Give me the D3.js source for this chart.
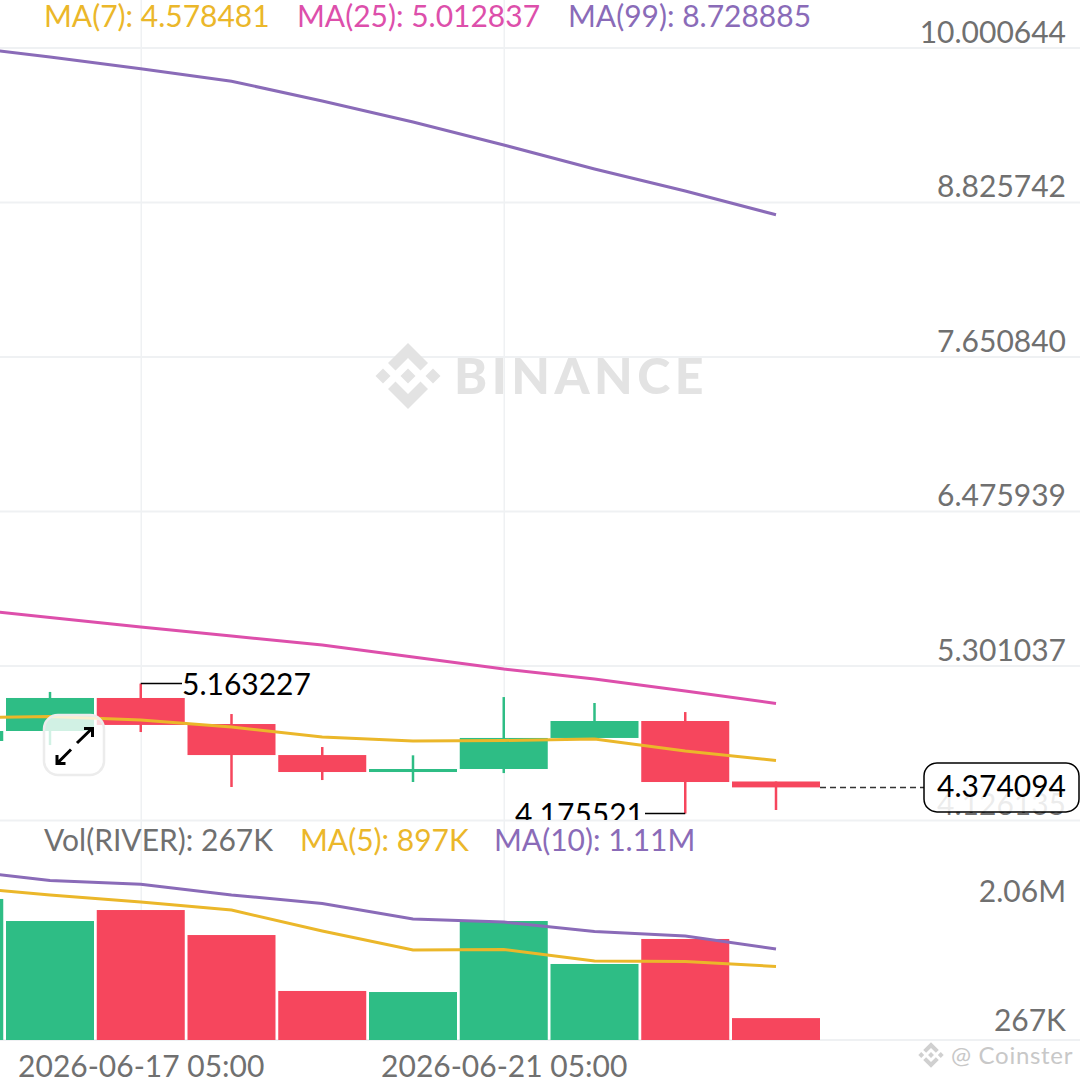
<!DOCTYPE html>
<html lang="en">
<head>
    <meta charset="UTF-8">
    <script src="https://d3js.org/d3.v7.min.js"></script>
    <title>RIVER candles</title>
    <style>
        html, body { margin: 0; padding: 0; background: #fff; }
        svg { display: block; font-family: Lato, sans-serif; }
    </style>
</head>
<body>

<script>
    const dates = ["2026-06-15", "2026-06-16", "2026-06-17", "2026-06-18", "2026-06-19", "2026-06-20", "2026-06-21", "2026-06-22", "2026-06-23", "2026-06-24"];
    const opens = [4.727, 4.803, 5.054, 4.856, 4.620, 4.491, 4.514, 4.750, 4.879, 4.419];
    const highs = [4.830, 5.100, 5.163227, 4.932, 4.681, 4.618, 5.061, 5.016, 4.947, 4.419];
    const lows = [4.700, 4.696, 4.795, 4.377, 4.430, 4.415, 4.483, 4.750, 4.175521, 4.202];
    const closes = [4.803, 5.054, 4.849, 4.620, 4.491, 4.514, 4.750, 4.879, 4.415, 4.374094];
    const volumes = [1.72, 1.451, 1.585, 1.280, 0.598, 0.585, 1.451, 0.927, 1.232, 0.267];

    const ma7 = [4.902, 4.913, 4.886, 4.833, 4.757, 4.727, 4.731, 4.742, 4.651, 4.578481];
    const ma25 = [5.738, 5.666, 5.594, 5.525, 5.457, 5.366, 5.274, 5.198, 5.107, 5.012837];
    const ma99 = [10.012, 9.928, 9.839, 9.744, 9.594, 9.434, 9.259, 9.077, 8.909, 8.728885];
    const volMa5 = [1.866, 1.768, 1.683, 1.585, 1.329, 1.098, 1.104, 0.963, 0.957, 0.897];
    const volMa10 = [2.073, 1.945, 1.899, 1.768, 1.665, 1.476, 1.439, 1.323, 1.268, 1.11];

    const priceTicks = [10.000644, 8.825742, 7.650840, 6.475939, 5.301037, 4.126135];
    const volTicks = [2.06, 0.267];
    const volTickLabels = ["2.06M", "267K"];
    const timeTicks = ["2026-06-17", "2026-06-21"];

    const GREEN = "#2ebd85", RED = "#f6465d", YELLOW = "#ebb72a", PINK = "#dd4fab", PURPLE = "#8a6bb8";
    const GRID = "#eff1f3", GRAY = "#707070";
    const FONT_SIZE = 30;

    const parseDay = s => new Date(s + "T05:00:00Z");
    const days = dates.map(parseDay);
    const candles = dates.map((d, i) => ({ t: days[i], o: opens[i], h: highs[i], l: lows[i], c: closes[i], v: volumes[i] }));

    const svg = d3.select("body").append("svg").attr("width", 1080).attr("height", 1080);

    // x and y scales
    const x = d3.scaleUtc().domain([parseDay("2026-06-16"), parseDay("2026-06-24")]).range([50, 776]);
    const y = d3.scaleLinear().domain([4.126135, 10.000644]).range([820, 47.5]);
    const yVol = d3.scaleLinear().domain([0, 1]).range([1040, 958]);
    const yVolLabel = d3.scaleLinear().domain(volTicks).range([893, 1022]);
    const bodyWidth = 88;

    // price axis with grid lines
    const priceAxis = svg.append("g")
        .call(d3.axisLeft(y).tickValues(priceTicks).tickFormat(d3.format(".6f")).tickSize(0));
    priceAxis.select(".domain").remove();
    priceAxis.selectAll("line").attr("x1", 0).attr("x2", 1080).attr("stroke", GRID).attr("stroke-width", 2);
    priceAxis.selectAll("text")
        .attr("x", 1066).attr("dy", -13).attr("dominant-baseline", "middle")
        .attr("text-anchor", "end").attr("font-size", FONT_SIZE).attr("fill", GRAY).attr("font-family", "Lato");

    // time axis, grid lines run up the whole chart
    const timeAxis = svg.append("g")
        .attr("transform", "translate(0,1040)")
        .call(d3.axisBottom(x).tickValues(timeTicks.map(parseDay)).tickFormat(d3.utcFormat("%Y-%m-%d %H:%M")).tickSize(0));
    timeAxis.select(".domain").remove();
    timeAxis.selectAll("line").attr("y1", -1040).attr("y2", 0).attr("stroke", GRID).attr("stroke-width", 1.5);
    timeAxis.selectAll("text")
        .attr("y", 29).attr("dy", 0).attr("dominant-baseline", "middle")
        .attr("font-size", FONT_SIZE).attr("fill", GRAY).attr("font-family", "Lato");

    svg.append("line").attr("x1", 0).attr("x2", 1080).attr("y1", 1040).attr("y2", 1040)
        .attr("stroke", GRID).attr("stroke-width", 2);

    // Binance mark, same shape is used for the small Coinster one
    function binanceLogo(cx, cy, s, color) {
        const g = svg.append("g").attr("transform", `translate(${cx},${cy}) scale(${s})`).attr("fill", color);
        const shapes = [
            "M0,-7.5L7.5,0L0,7.5L-7.5,0Z",
            "M-25,-7.5L-17.5,0L-25,7.5L-32.5,0Z",
            "M25,-7.5L32.5,0L25,7.5L17.5,0Z",
            "M0,-33L20,-13L12.5,-5.5L0,-18L-12.5,-5.5L-20,-13Z",
            "M0,33L20,13L12.5,5.5L0,18L-12.5,5.5L-20,13Z"
        ];
        shapes.forEach(p => g.append("path").attr("d", p));
    }

    binanceLogo(408, 376, 1, "#e3e3e3");
    svg.append("text")
        .attr("x", 454).attr("y", 394)
        .attr("font-size", 50).attr("font-weight", 900).attr("letter-spacing", 4.5)
        .attr("fill", "#e3e3e3")
        .text("BINANCE");

    // volume bars
    svg.append("g").selectAll("rect")
        .data(candles)
        .enter().append("rect")
        .attr("x", d => x(d.t) - bodyWidth / 2)
        .attr("width", bodyWidth)
        .attr("y", d => yVol(d.v))
        .attr("height", d => yVol(0) - yVol(d.v))
        .attr("fill", d => d.c >= d.o ? GREEN : RED);

    // candles are clipped to the price panel
    svg.append("clipPath").attr("id", "pricePanel")
        .append("rect").attr("x", 0).attr("y", 0).attr("width", 1080).attr("height", 820);
    const pricePanel = svg.append("g").attr("clip-path", "url(#pricePanel)");

    pricePanel.append("g").selectAll("line")
        .data(candles)
        .enter().append("line")
        .attr("x1", d => x(d.t)).attr("x2", d => x(d.t))
        .attr("y1", d => y(d.h)).attr("y2", d => y(d.l))
        .attr("stroke", d => d.c >= d.o ? GREEN : RED)
        .attr("stroke-width", 2.5);

    pricePanel.append("g").selectAll("rect")
        .data(candles)
        .enter().append("rect")
        .attr("x", d => x(d.t) - bodyWidth / 2)
        .attr("width", bodyWidth)
        .attr("y", d => y(Math.max(d.o, d.c)))
        .attr("height", d => Math.abs(y(d.o) - y(d.c)))
        .attr("fill", d => d.c >= d.o ? GREEN : RED);

    // moving averages
    function maLine(values, scale, color) {
        const line = d3.line().x((d, i) => x(days[i])).y(d => scale(d));
        svg.append("path")
            .datum(values)
            .attr("d", line)
            .attr("fill", "none")
            .attr("stroke", color)
            .attr("stroke-width", 3);
    }
    maLine(ma99, y, PURPLE);
    maLine(ma25, y, PINK);
    maLine(ma7, y, YELLOW);
    maLine(volMa10, yVol, PURPLE);
    maLine(volMa5, yVol, YELLOW);

    // high and low callouts
    const hi = candles[2], lo = candles[8];
    svg.append("line").attr("x1", x(hi.t)).attr("x2", 182).attr("y1", y(hi.h)).attr("y2", y(hi.h))
        .attr("stroke", "#000").attr("stroke-width", 1.5);
    svg.append("text").attr("x", 182).attr("y", y(hi.h) + 11)
        .attr("font-size", FONT_SIZE).attr("fill", "#000").text(d3.format(".6f")(hi.h));
    pricePanel.append("line").attr("x1", 645).attr("x2", x(lo.t)).attr("y1", y(lo.l)).attr("y2", y(lo.l))
        .attr("stroke", "#000").attr("stroke-width", 1.5);
    pricePanel.append("text").attr("x", 644).attr("y", y(lo.l) + 11).attr("text-anchor", "end")
        .attr("font-size", FONT_SIZE).attr("fill", "#000").text(d3.format(".6f")(lo.l));

    // last price
    const last = candles[candles.length - 1];
    svg.append("line").attr("x1", x(last.t) + bodyWidth / 2).attr("x2", 924).attr("y1", y(last.c)).attr("y2", y(last.c))
        .attr("stroke", "#333").attr("stroke-width", 1.5).attr("stroke-dasharray", "6,4");
    svg.append("rect").attr("x", 924).attr("y", y(last.c) - 24.5).attr("width", 155).attr("height", 49).attr("rx", 13)
        .attr("fill", "#fff").attr("fill-opacity", 0.87).attr("stroke", "#000").attr("stroke-width", 1.5);
    svg.append("text").attr("x", 1066).attr("y", y(last.c) + 2).attr("dominant-baseline", "middle").attr("text-anchor", "end")
        .attr("font-size", FONT_SIZE).attr("fill", "#000").text(d3.format(".6f")(last.c));

    // volume axis labels
    svg.append("g").selectAll("text")
        .data(volTicks)
        .enter().append("text")
        .attr("x", 1066).attr("y", d => yVolLabel(d) + 1)
        .attr("dominant-baseline", "middle").attr("text-anchor", "end")
        .attr("font-size", FONT_SIZE).attr("fill", GRAY)
        .text((d, i) => volTickLabels[i]);

    // legends
    const legendItems = [
        { x: 44, y: 27, color: YELLOW, text: "MA(7): 4.578481" },
        { x: 297, y: 27, color: PINK, text: "MA(25): 5.012837" },
        { x: 568, y: 27, color: PURPLE, text: "MA(99): 8.728885" },
        { x: 44, y: 851, color: GRAY, text: "Vol(RIVER): 267K" },
        { x: 300, y: 851, color: YELLOW, text: "MA(5): 897K" },
        { x: 494, y: 851, color: PURPLE, text: "MA(10): 1.11M" }
    ];
    svg.append("g").selectAll("text")
        .data(legendItems)
        .enter().append("text")
        .attr("x", d => d.x).attr("y", d => d.y)
        .attr("font-size", FONT_SIZE).attr("fill", d => d.color)
        .text(d => d.text);

    // expand button over the chart
    const button = svg.append("g");
    button.append("rect").attr("x", 44).attr("y", 715).attr("width", 60).attr("height", 60).attr("rx", 14)
        .attr("fill", "#fff").attr("fill-opacity", 0.78).attr("stroke", "#ececec").attr("stroke-width", 2.5);
    button.append("path")
        .attr("d", "M77,743L92,728.5M84,728.5H92.5V737M71,749.5L57,763.5M57,755V763.5H65.5")
        .attr("fill", "none").attr("stroke", "#000").attr("stroke-width", 3);

    // source mark
    binanceLogo(931, 1055, 0.39, "#d0d0d0");
    svg.append("text").attr("x", 951).attr("y", 1064)
        .attr("font-size", 24).attr("letter-spacing", 0.7).attr("fill", "#c8c8c8")
        .text("@ Coinster");
</script>

</body>
</html>
